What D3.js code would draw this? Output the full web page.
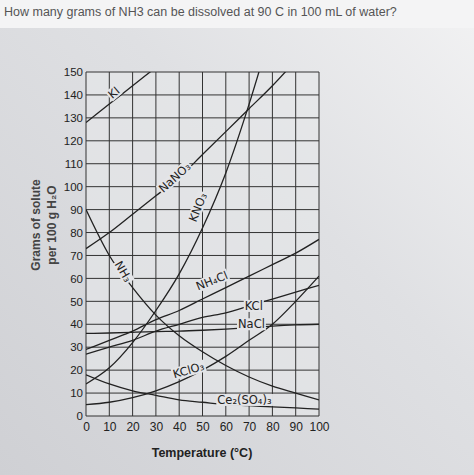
<!DOCTYPE html>
<html><head><meta charset="utf-8">
<script src="https://cdn.jsdelivr.net/npm/d3@7"></script>
<style>body{margin:0;background:#d9dadd;font-family:"Liberation Sans",Arial,sans-serif}</style>
</head><body><div id="chart"></div>
<script>
const temps = [0, 10, 20, 30, 40, 50, 60, 70, 80, 90, 100];
const yTicks = [0, 10, 20, 30, 40, 50, 60, 70, 80, 90, 100, 110, 120, 130, 140, 150];
const kiVals = [128, 136, 144, 152];
const nano3Vals = [73, 80, 88, 96, 104, 114, 124, 134, 144, 155];
const kno3Vals = [14, 21, 32, 46, 62, 82, 106, 136, 170];
const nh3Vals = [90, 70, 56, 44, 35, 28, 22, 17, 13, 10, 7];
const nh4clVals = [29, 33, 37, 42, 46, 51, 56, 61, 66, 71, 77];
const kclVals = [27, 30, 33, 37, 40, 43, 45, 48, 51, 54, 57];
const naclVals = [36, 36.2, 36.5, 36.8, 37, 37.4, 37.9, 38.5, 39.2, 39.7, 40];
const kclo3Vals = [5, 6, 8, 11, 15, 20, 26, 33, 40, 50, 61];
const ce2Vals = [18, 14, 11, 9, 7, 6, 5, 4.5, 4, 3.5, 3];

const W = 474, H = 475;
const svg = d3.select("#chart").append("svg").attr("width", W).attr("height", H);
const defs = svg.append("defs");
const g1 = defs.append("linearGradient").attr("id", "bg").attr("x1", 0).attr("x2", 1).attr("y1", 1).attr("y2", 0);
g1.append("stop").attr("offset", 0).attr("stop-color", "#cfd0d4");
g1.append("stop").attr("offset", 0.6).attr("stop-color", "#dfe0e3");
g1.append("stop").attr("offset", 1).attr("stop-color", "#f2f2f3");
svg.append("rect").attr("width", W).attr("height", H).attr("fill", "url(#bg)");
svg.append("rect").attr("width", W).attr("height", 28).attr("fill", "#f4f4f5");
svg.append("text").attr("x", 4).attr("y", 16).attr("font-size", 12.5).attr("fill", "#555")
  .text("How many grams of NH3 can be dissolved at 90 C in 100 mL of water?");

const x = d3.scaleLinear().domain([0, 100]).range([86, 319]);
const y = d3.scaleLinear().domain([0, 150]).range([416, 72]);

svg.append("rect").attr("x", x(0)).attr("y", y(150)).attr("width", x(100) - x(0)).attr("height", y(0) - y(150))
  .attr("fill", "#e6e7ea").attr("opacity", 0.6);

const grid = svg.append("g").attr("stroke", "#333").attr("stroke-width", 1);
d3.range(0, 101, 10).forEach(t => grid.append("line").attr("x1", x(t)).attr("x2", x(t)).attr("y1", y(0)).attr("y2", y(150)));
yTicks.forEach(v => grid.append("line").attr("x1", x(0)).attr("x2", x(100)).attr("y1", y(v)).attr("y2", y(v)));

svg.append("g").attr("transform", `translate(0,${y(0)})`)
  .call(d3.axisBottom(x).tickValues(temps).tickSize(0).tickPadding(6))
  .call(a => a.select(".domain").remove())
  .selectAll("text").attr("font-size", 12).attr("fill", "#222").attr("font-family", "Liberation Sans");
svg.append("g").attr("transform", `translate(${x(0)},0)`)
  .call(d3.axisLeft(y).tickValues(yTicks).tickSize(0).tickPadding(3))
  .call(a => a.select(".domain").remove())
  .selectAll("text").attr("font-size", 11.5).attr("fill", "#222").attr("font-family", "Liberation Sans");

svg.append("text").attr("x", 202).attr("y", 457).attr("text-anchor", "middle").attr("font-size", 12.5)
  .attr("font-weight", "bold").attr("fill", "#222").text("Temperature (°C)");
const yl = svg.append("text").attr("transform", "translate(40,225) rotate(-90)").attr("text-anchor", "middle")
  .attr("font-size", 12).attr("font-weight", "bold").attr("fill", "#444");
yl.append("tspan").attr("x", 0).attr("dy", 0).text("Grams of solute");
yl.append("tspan").attr("x", 0).attr("dy", 16).text("per 100 g H₂O");

svg.append("clipPath").attr("id", "clip").append("rect")
  .attr("x", x(0)).attr("y", y(150)).attr("width", x(100) - x(0)).attr("height", y(0) - y(150));
const line = d3.line().x((d, i) => x(temps[i])).y(d => y(d)).curve(d3.curveMonotoneX);
const curves = svg.append("g").attr("clip-path", "url(#clip)");
[kiVals, nano3Vals, kno3Vals, nh3Vals, nh4clVals, kclVals, naclVals, kclo3Vals, ce2Vals].forEach(vals =>
  curves.append("path").datum(vals).attr("d", line).attr("fill", "none").attr("stroke", "#222").attr("stroke-width", 1.3));

function label(t, v, ang, txt) {
  const gx = svg.append("g").attr("transform", `translate(${x(t)},${y(v)}) rotate(${ang})`);
  const tx = gx.append("text").attr("text-anchor", "middle").attr("dy", 4).attr("font-size", 11.5)
    .attr("font-family", "DejaVu Sans").attr("fill", "#222").text(txt);
  const bb = tx.node().getBBox();
  gx.insert("rect", "text").attr("x", bb.x - 1).attr("y", bb.y + 1).attr("width", bb.width + 2).attr("height", bb.height - 2).attr("fill", "#e4e5e8");
}
label(12, 141, -40, "KI");
label(38, 104, -42, "NaNO₃");
label(48, 91, -68, "KNO₃");
label(16, 63, 60, "NH₃");
label(54, 59, -22, "NH₄Cl");
label(72, 48, 0, "KCl");
label(71, 40, 0, "NaCl");
label(44, 20, -16, "KClO₃");
label(68, 7, 0, "Ce₂(SO₄)₃");
</script></body></html>
